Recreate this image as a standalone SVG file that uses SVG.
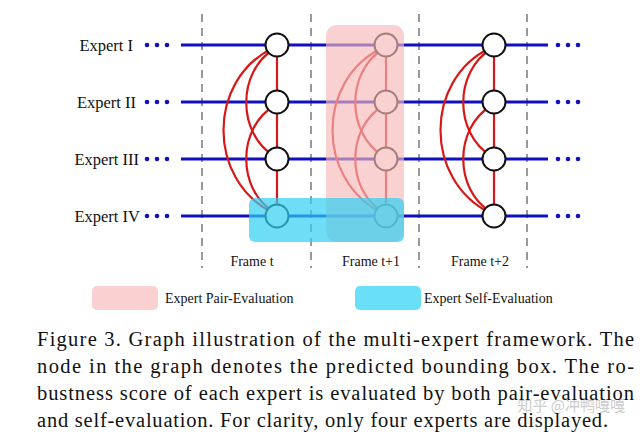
<svg xmlns="http://www.w3.org/2000/svg" width="642" height="443" viewBox="0 0 642 443">
<style>
.t{font-family:"Liberation Serif",serif;fill:#111}
.lab{font-size:16.5px}
.sm{font-size:14px}
.cap{font-size:20.5px}
.ln{stroke:#1010c0;stroke-width:3;fill:none}
.dash{stroke:#999;stroke-width:2;stroke-dasharray:8,6}
.ed{stroke:#d81818;stroke-width:2.2;fill:none}
.nd{fill:#fff;stroke:#111;stroke-width:2}
.dot{fill:#1010c0}
</style>
<rect width="642" height="443" fill="#fff"/>
<g id="frames">
<line class="dash" x1="202" y1="14" x2="202" y2="268"/>
<line class="dash" x1="311" y1="14" x2="311" y2="268"/>
<line class="dash" x1="419" y1="14" x2="419" y2="268"/>
<line class="dash" x1="527" y1="14" x2="527" y2="268"/>
<text class="t sm" x="252" y="266" text-anchor="middle">Frame t</text>
<text class="t sm" x="371" y="266" text-anchor="middle">Frame t+1</text>
<text class="t sm" x="480" y="266" text-anchor="middle">Frame t+2</text>
</g>
<g id="experts">
<text class="t lab" x="133" y="51" text-anchor="end">Expert I</text>
<text class="t lab" x="136" y="108" text-anchor="end">Expert II</text>
<text class="t lab" x="139" y="165" text-anchor="end">Expert III</text>
<text class="t lab" x="140" y="222" text-anchor="end">Expert IV</text>
</g>
<g id="connectors">
<g class="ln">
<line x1="181" y1="45" x2="548" y2="45"/><line x1="181" y1="102" x2="548" y2="102"/>
<line x1="181" y1="159" x2="548" y2="159"/><line x1="181" y1="216" x2="548" y2="216"/>
</g>
<g>
<circle class="dot" cx="147" cy="45" r="2.3"/><circle class="dot" cx="157" cy="45" r="2.3"/><circle class="dot" cx="167" cy="45" r="2.3"/>
<circle class="dot" cx="147" cy="102" r="2.3"/><circle class="dot" cx="157" cy="102" r="2.3"/><circle class="dot" cx="167" cy="102" r="2.3"/>
<circle class="dot" cx="147" cy="159" r="2.3"/><circle class="dot" cx="157" cy="159" r="2.3"/><circle class="dot" cx="167" cy="159" r="2.3"/>
<circle class="dot" cx="147" cy="216" r="2.3"/><circle class="dot" cx="157" cy="216" r="2.3"/><circle class="dot" cx="167" cy="216" r="2.3"/>
<circle class="dot" cx="558" cy="45" r="2.3"/><circle class="dot" cx="568" cy="45" r="2.3"/><circle class="dot" cx="578" cy="45" r="2.3"/>
<circle class="dot" cx="558" cy="102" r="2.3"/><circle class="dot" cx="568" cy="102" r="2.3"/><circle class="dot" cx="578" cy="102" r="2.3"/>
<circle class="dot" cx="558" cy="159" r="2.3"/><circle class="dot" cx="568" cy="159" r="2.3"/><circle class="dot" cx="578" cy="159" r="2.3"/>
<circle class="dot" cx="558" cy="216" r="2.3"/><circle class="dot" cx="568" cy="216" r="2.3"/><circle class="dot" cx="578" cy="216" r="2.3"/>
</g>
<g id="edges-t" transform="translate(277,0)">
<line class="ed" x1="0" y1="45" x2="0" y2="216"/>
<path class="ed" d="M-4,48 C-70,80 -70,180 -4,213"/>
<path class="ed" d="M-3,49 C-40,72 -40,133 -3,156"/>
<path class="ed" d="M-3,106 C-40,128 -40,190 -3,212"/>
</g>
<g id="edges-t1" transform="translate(386,0)">
<line class="ed" x1="0" y1="45" x2="0" y2="216"/>
<path class="ed" d="M-4,48 C-70,80 -70,180 -4,213"/>
<path class="ed" d="M-3,49 C-40,72 -40,133 -3,156"/>
<path class="ed" d="M-3,106 C-40,128 -40,190 -3,212"/>
</g>
<g id="edges-t2" transform="translate(494,0)">
<line class="ed" x1="0" y1="45" x2="0" y2="216"/>
<path class="ed" d="M-4,48 C-70,80 -70,180 -4,213"/>
<path class="ed" d="M-3,49 C-40,72 -40,133 -3,156"/>
<path class="ed" d="M-3,106 C-40,128 -40,190 -3,212"/>
</g>
</g>
<g id="nodes-t"><circle class="nd" cx="277" cy="45" r="11.5"/><circle class="nd" cx="277" cy="102" r="11.5"/><circle class="nd" cx="277" cy="159" r="11.5"/><circle class="nd" cx="277" cy="216" r="11.5"/></g>
<g id="nodes-t1"><circle class="nd" cx="386" cy="45" r="11.5"/><circle class="nd" cx="386" cy="102" r="11.5"/><circle class="nd" cx="386" cy="159" r="11.5"/><circle class="nd" cx="386" cy="216" r="11.5"/></g>
<g id="nodes-t2"><circle class="nd" cx="494" cy="45" r="11.5"/><circle class="nd" cx="494" cy="102" r="11.5"/><circle class="nd" cx="494" cy="159" r="11.5"/><circle class="nd" cx="494" cy="216" r="11.5"/></g>
<g id="pair-eval"><rect x="326" y="25" width="78" height="217" rx="10" fill="#f8b8b8" fill-opacity="0.65"/></g>
<g id="self-eval"><rect x="249" y="198" width="155" height="44" rx="6" fill="#30d0f4" fill-opacity="0.7"/></g>
<g id="legend">
<rect x="92" y="286" width="66" height="24" rx="5" fill="#fbd0d0"/>
<text class="t sm" x="165" y="303">Expert Pair-Evaluation</text>
<rect x="355" y="286" width="66" height="24" rx="5" fill="#6ae0f8"/>
<text class="t sm" x="424" y="303">Expert Self-Evaluation</text>
</g>
<text x="625" y="411" text-anchor="end" font-family="Noto Sans CJK SC,sans-serif" font-size="15" fill="#ccc">知乎 @冲鸭嘎嘎</text>
<g id="caption" class="t cap">
<text x="37" y="346" textLength="597" lengthAdjust="spacing">Figure 3. Graph illustration of the multi-expert framework.  The</text>
<text x="37" y="373" textLength="597" lengthAdjust="spacing">node in the graph denotes the predicted bounding box.  The ro-</text>
<text x="37" y="400" textLength="597" lengthAdjust="spacing">bustness score of each expert is evaluated by both pair-evaluation</text>
<text x="37" y="427" textLength="571" lengthAdjust="spacing">and self-evaluation. For clarity, only four experts are displayed.</text>
</g>
</svg>
